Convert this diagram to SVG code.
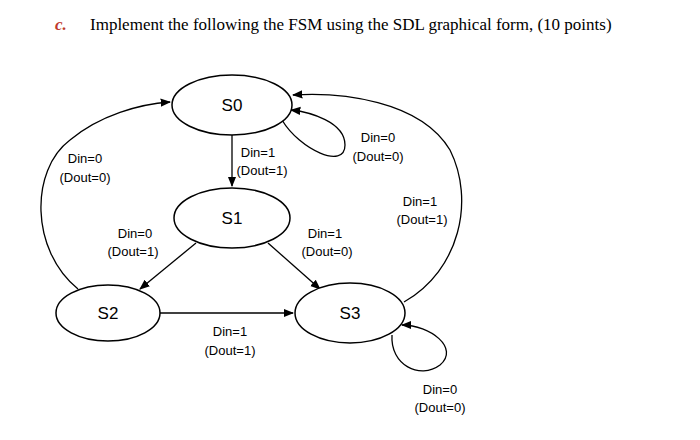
<svg xmlns="http://www.w3.org/2000/svg" width="700" height="440" viewBox="0 0 700 440">
<style>
.st{fill:#fff;stroke:#000;stroke-width:1.5}
.nl{font-family:"Liberation Sans",Arial,sans-serif;font-size:17px;text-anchor:middle}
.lb{font-family:"Liberation Sans",Arial,sans-serif;font-size:13px;text-anchor:middle}
.c{fill:none;stroke:#000;stroke-width:1.3}
</style>
<defs><marker id="a" viewBox="0 0 10 10" refX="9" refY="5" markerWidth="8" markerHeight="8" orient="auto"><path d="M0,1 L10,5 L0,9 z"/></marker></defs>
<rect width="700" height="440" fill="#fff"/>
<text x="55" y="30" font-family="Liberation Serif,serif" font-size="17" font-style="italic" font-weight="bold" fill="#c0392b">c.</text>
<text x="90" y="30" font-family="Liberation Serif,serif" font-size="17">Implement the following the FSM using the SDL graphical form, (10 points)</text>
<g id="connectors">
<path class="c" d="M232,135 L232,186" marker-end="url(#a)"/>
<path class="c" d="M196,243 L140,289" marker-end="url(#a)"/>
<path class="c" d="M268,243 L320,289" marker-end="url(#a)"/>
<path class="c" d="M160,313 L293,313" marker-end="url(#a)"/>
<path class="c" d="M78,289 C30,250 30,170 70,140 C100,115 140,104 170,102" marker-end="url(#a)"/>
<path class="c" d="M404,302 C460,270 475,200 450,150 C420,100 340,92 293,95" marker-end="url(#a)"/>
<path class="c" d="M282,120 C300,150 345,170 345,145 C345,122 310,112 291,110" marker-end="url(#a)"/>
<path class="c" d="M392,335 C390,365 420,380 440,365 C460,348 430,325 402,325" marker-end="url(#a)"/>
</g>
<g id="S0"><ellipse class="st" cx="232" cy="105" rx="60" ry="30"/><text class="nl" x="232" y="111">S0</text></g>
<g id="S1"><ellipse class="st" cx="232" cy="218" rx="58" ry="30"/><text class="nl" x="232" y="224">S1</text></g>
<g id="S2"><ellipse class="st" cx="108" cy="313" rx="52" ry="28"/><text class="nl" x="108" y="319">S2</text></g>
<g id="S3"><ellipse class="st" cx="350" cy="313" rx="55" ry="30"/><text class="nl" x="350" y="319">S3</text></g>
<g id="labels">
<text class="lb" x="85" y="163">Din=0</text><text class="lb" x="85" y="182">(Dout=0)</text>
<text class="lb" x="258" y="157">Din=1</text><text class="lb" x="262" y="175">(Dout=1)</text>
<text class="lb" x="378" y="142">Din=0</text><text class="lb" x="378" y="161">(Dout=0)</text>
<text class="lb" x="420" y="206">Din=1</text><text class="lb" x="422" y="224">(Dout=1)</text>
<text class="lb" x="135" y="238">Din=0</text><text class="lb" x="133" y="256">(Dout=1)</text>
<text class="lb" x="325" y="238">Din=1</text><text class="lb" x="327" y="256">(Dout=0)</text>
<text class="lb" x="230" y="336">Din=1</text><text class="lb" x="230" y="355">(Dout=1)</text>
<text class="lb" x="440" y="394">Din=0</text><text class="lb" x="440" y="412">(Dout=0)</text>
</g>
</svg>
